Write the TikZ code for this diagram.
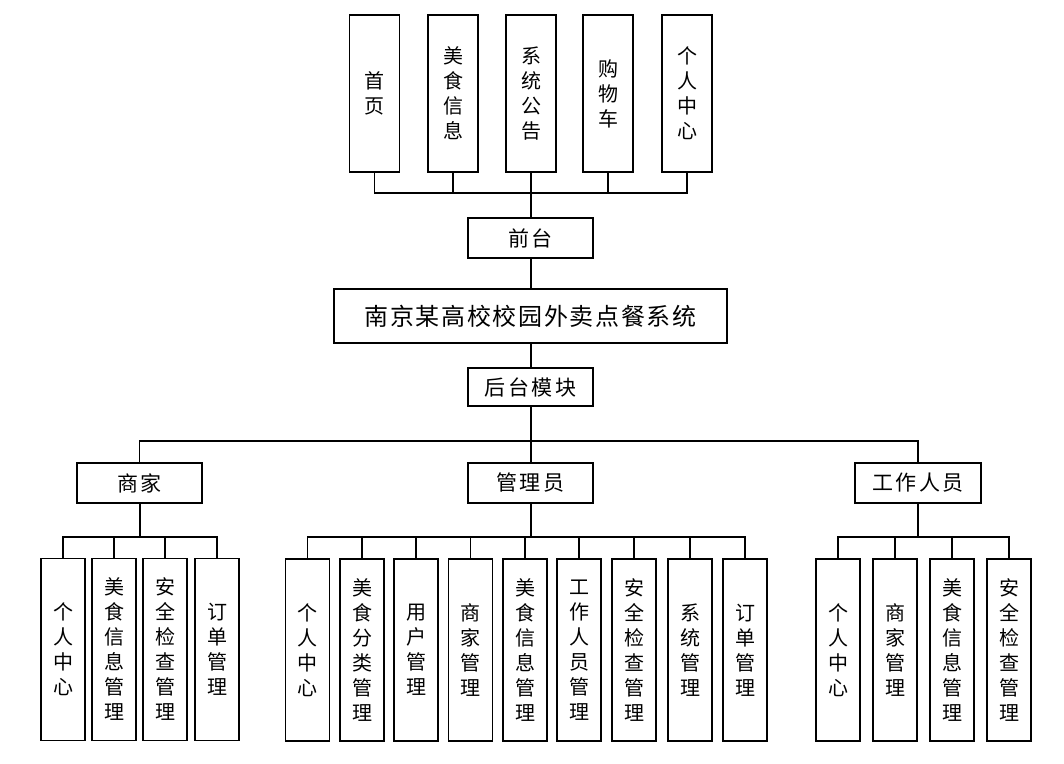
\documentclass[tikz,border=0pt]{standalone}
\usepackage{fontspec}
\newfontfamily\cjk{Noto Sans CJK SC}
\newfontfamily\cjkw[LetterSpace=12]{Noto Sans CJK SC}
\newfontfamily\cjkt[LetterSpace=7]{Noto Sans CJK SC}
\begin{document}
\begin{tikzpicture}[x=1pt,y=-1pt,
  boxline/.style={line width=1.1pt},
  vbox/.style={draw, boxline, fill=white, inner sep=0pt, align=center,
    minimum width=44pt, minimum height=182pt,
    font=\cjk\fontsize{20pt}{25pt}\selectfont},
  topbox/.style={vbox, minimum width=50pt, minimum height=157pt},
  hbox/.style={draw, boxline, fill=white, inner sep=0pt,
    minimum width=125pt, minimum height=40pt,
    font=\cjkw\fontsize{21pt}{24pt}\selectfont},
  conn/.style={line width=1.1pt},
  trunk/.style={line width=2pt}]
\useasboundingbox (0,0) rectangle (1064,763);
\fill[white] (0,0) rectangle (1064,763);

% top row
\node[topbox] (t1) at (374.5,93.5) {首\\页};
\node[topbox] (t2) at (453,93.5) {美\\食\\信\\息};
\node[topbox] (t3) at (531,93.5) {系\\统\\公\\告};
\node[topbox] (t4) at (608,93.5) {购\\物\\车};
\node[topbox] (t5) at (687,93.5) {个\\人\\中\\心};

\node[hbox] (qt) at (530.5,238) {前台};
\node[draw, boxline, inner sep=0pt, minimum width=393pt, minimum height=54pt,
  font=\cjkt\fontsize{24pt}{28pt}\selectfont] (sys) at (530.5,316) {南京某高校校园外卖点餐系统};
\node[hbox, minimum height=38pt] (ht) at (530.5,387) {后台模块};

\node[hbox] (sj) at (139.5,483) {商家};
\node[hbox] (gl) at (530.5,483) {管理员};
\node[hbox, minimum width=126pt] (gz) at (918,483) {工作人员};

% merchant children
\node[vbox] (s1) at (63,649.5) {个\\人\\中\\心};
\node[vbox] (s2) at (114,649.5) {美\\食\\信\\息\\管\\理};
\node[vbox] (s3) at (165,649.5) {安\\全\\检\\查\\管\\理};
\node[vbox] (s4) at (217,649.5) {订\\单\\管\\理};

% admin children
\node[vbox] (a1) at (307.5,650) {个\\人\\中\\心};
\node[vbox] (a2) at (362,650) {美\\食\\分\\类\\管\\理};
\node[vbox] (a3) at (416,650) {用\\户\\管\\理};
\node[vbox] (a4) at (470.5,650) {商\\家\\管\\理};
\node[vbox] (a5) at (525,650) {美\\食\\信\\息\\管\\理};
\node[vbox] (a6) at (579,650) {工\\作\\人\\员\\管\\理};
\node[vbox] (a7) at (634,650) {安\\全\\检\\查\\管\\理};
\node[vbox] (a8) at (690,650) {系\\统\\管\\理};
\node[vbox] (a9) at (745,650) {订\\单\\管\\理};

% worker children
\node[vbox] (w1) at (838,650) {个\\人\\中\\心};
\node[vbox] (w2) at (895,650) {商\\家\\管\\理};
\node[vbox] (w3) at (952,650) {美\\食\\信\\息\\管\\理};
\node[vbox] (w4) at (1009,650) {安\\全\\检\\查\\管\\理};

% junction coordinates
\coordinate (jt) at (530.5,193);
\coordinate (jm) at (530.5,441);
\coordinate (js) at (139.5,537);
\coordinate (ja) at (530.5,537);
\coordinate (jw) at (918,537);

% top connectors
\foreach \n in {t1,t2,t3,t4,t5} \draw[conn] (\n.south) |- (jt);
\draw[trunk] (jt) -- (qt.north);
\draw[trunk] (qt.south) -- (sys.north);
\draw[trunk] (sys.south) -- (ht.north);
\draw[trunk] (ht.south) -- (jm);
\draw[conn] (jm) -| (sj.north);
\draw[conn] (jm) -| (gz.north);
\draw[trunk] (jm) -- (gl.north);

\draw[trunk] (sj.south) -- (js);
\foreach \n in {s1,s2,s3,s4} \draw[conn] (js) -| (\n.north);
\draw[trunk] (gl.south) -- (ja);
\foreach \n in {a1,a2,a3,a4,a5,a6,a7,a8,a9} \draw[conn] (ja) -| (\n.north);
\draw[trunk] (gz.south) -- (jw);
\foreach \n in {w1,w2,w3,w4} \draw[conn] (jw) -| (\n.north);
\end{tikzpicture}
\end{document}
